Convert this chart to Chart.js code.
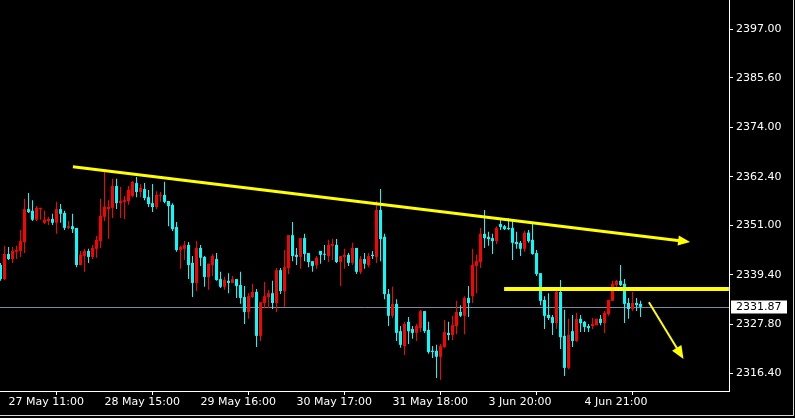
<!DOCTYPE html>
<html>
<head>
<meta charset="utf-8">
<script src="https://cdn.jsdelivr.net/npm/chart.js@4.4.1/dist/chart.umd.min.js"></script>
<style>
  html, body { margin: 0; padding: 0; background: #000; }
  #wrap { width: 795px; height: 418px; }
</style>
</head>
<body>
<div id="wrap"><canvas id="priceChart" width="795" height="418"></canvas></div>
<script>
// H1 candles (bar index 0 = first partly visible candle)
const opens = [
  2341.7, 2338.4, 2344.3, 2343.1, 2344.8, 2345.0, 2347.1, 2354.8, 2354.4, 2352.3,
  2354.8, 2351.6, 2352.0, 2352.5, 2351.6, 2354.8, 2353.9, 2350.4, 2350.8, 2350.4,
  2341.7, 2343.8, 2345.0, 2343.6, 2345.5, 2347.3, 2353.0, 2354.8, 2355.1, 2360.2,
  2356.2, 2356.5, 2356.7, 2357.9, 2360.9, 2358.8, 2359.5, 2357.6, 2356.2, 2355.3,
  2357.9, 2358.1, 2356.7, 2355.8, 2350.6, 2345.2, 2345.5, 2346.4, 2342.2, 2337.5,
  2345.7, 2343.6, 2338.9, 2341.7, 2343.1, 2338.4, 2336.6, 2338.0, 2337.5, 2338.4,
  2337.0, 2334.2, 2330.7, 2334.2, 2335.4, 2325.1, 2332.8, 2334.2, 2335.1, 2332.8,
  2340.5, 2335.6, 2341.0, 2348.7, 2344.1, 2343.6, 2348.0, 2344.5, 2342.6, 2341.7,
  2345.0, 2344.3, 2343.8, 2346.2, 2346.4, 2342.4, 2343.6, 2344.1, 2342.2, 2345.7,
  2340.1, 2343.1, 2341.7, 2344.1, 2343.6, 2354.6, 2348.3, 2334.9, 2329.8, 2332.6,
  2326.2, 2322.7, 2328.4, 2326.7, 2325.8, 2326.9, 2330.9, 2326.5, 2321.6, 2321.6,
  2320.2, 2322.5, 2325.8, 2325.3, 2327.4, 2330.7, 2329.8, 2334.0, 2334.4, 2341.5,
  2342.4, 2349.0, 2348.3, 2348.0, 2347.3, 2351.3, 2350.8, 2350.4, 2350.4, 2347.1,
  2346.9, 2345.5, 2349.3, 2347.6, 2344.5, 2339.8, 2333.5, 2330.0, 2329.5, 2328.1,
  2335.4, 2325.1, 2317.6, 2326.2, 2323.9, 2329.1, 2328.4, 2327.4, 2327.4, 2327.6,
  2329.1, 2328.1, 2330.2, 2333.3, 2337.0, 2338.0, 2337.3, 2332.8, 2331.4, 2332.8,
  2332.6
];
const highs = [
  2342.2, 2346.2, 2345.9, 2345.9, 2346.2, 2349.9, 2357.2, 2358.6, 2356.9, 2355.5,
  2355.1, 2354.4, 2353.0, 2353.7, 2356.5, 2356.0, 2354.4, 2352.0, 2353.7, 2350.4,
  2345.0, 2345.5, 2345.5, 2346.4, 2348.5, 2357.2, 2364.0, 2356.9, 2361.9, 2361.9,
  2360.0, 2357.9, 2360.2, 2361.4, 2362.3, 2360.7, 2360.9, 2359.3, 2360.7, 2359.0,
  2358.8, 2361.2, 2356.7, 2356.2, 2351.8, 2346.2, 2347.3, 2347.1, 2343.8, 2347.3,
  2346.4, 2343.8, 2342.0, 2344.3, 2344.5, 2340.1, 2338.9, 2339.8, 2339.1, 2338.4,
  2340.1, 2336.8, 2335.1, 2337.3, 2336.1, 2333.0, 2337.7, 2335.9, 2338.0, 2341.0,
  2341.0, 2345.2, 2348.7, 2351.8, 2345.7, 2348.0, 2349.0, 2344.5, 2342.6, 2343.8,
  2345.0, 2346.4, 2347.6, 2347.8, 2347.8, 2343.8, 2345.5, 2344.5, 2346.9, 2345.7,
  2343.8, 2344.5, 2344.5, 2345.0, 2356.7, 2359.5, 2349.0, 2336.1, 2336.6, 2333.7,
  2327.4, 2328.4, 2329.5, 2327.4, 2327.9, 2331.2, 2330.9, 2328.4, 2322.7, 2323.0,
  2323.2, 2328.8, 2328.4, 2329.8, 2333.3, 2332.3, 2334.4, 2336.8, 2345.5, 2344.1,
  2350.4, 2354.6, 2349.5, 2349.0, 2350.8, 2352.5, 2351.1, 2352.7, 2352.0, 2349.5,
  2347.3, 2349.7, 2349.9, 2351.3, 2345.2, 2339.8, 2334.4, 2335.1, 2330.0, 2335.9,
  2338.2, 2331.2, 2329.1, 2330.0, 2330.5, 2330.0, 2328.6, 2327.9, 2329.3, 2329.1,
  2330.0, 2330.9, 2333.5, 2338.0, 2338.2, 2341.7, 2338.4, 2334.0, 2335.4, 2334.0,
  2333.3
];
const lows = [
  2338.0, 2338.2, 2342.9, 2342.2, 2343.1, 2343.6, 2344.5, 2353.9, 2352.0, 2352.0,
  2352.3, 2351.3, 2351.1, 2351.1, 2349.0, 2351.6, 2349.9, 2350.1, 2349.2, 2341.2,
  2341.7, 2340.1, 2342.2, 2343.1, 2343.4, 2345.7, 2352.0, 2347.8, 2352.7, 2354.8,
  2352.7, 2352.5, 2355.8, 2357.6, 2357.6, 2357.6, 2356.9, 2355.3, 2354.1, 2354.8,
  2356.5, 2356.2, 2350.8, 2349.7, 2344.8, 2340.8, 2342.9, 2338.4, 2334.2, 2335.6,
  2341.5, 2336.6, 2335.9, 2339.1, 2338.0, 2336.3, 2335.9, 2335.1, 2337.5, 2334.0,
  2332.6, 2327.9, 2329.1, 2334.0, 2322.5, 2323.9, 2331.6, 2331.6, 2331.4, 2330.7,
  2334.9, 2331.9, 2339.6, 2342.6, 2341.7, 2340.8, 2342.6, 2341.2, 2340.1, 2340.8,
  2342.0, 2342.9, 2342.4, 2342.9, 2342.2, 2336.8, 2340.8, 2341.5, 2341.7, 2339.6,
  2339.6, 2340.8, 2341.2, 2343.1, 2342.2, 2342.6, 2333.7, 2327.4, 2329.3, 2323.9,
  2322.3, 2320.6, 2323.2, 2324.4, 2323.9, 2326.0, 2325.8, 2320.9, 2319.9, 2315.2,
  2314.8, 2322.3, 2324.1, 2324.1, 2325.5, 2329.5, 2325.5, 2329.5, 2332.8, 2335.1,
  2341.0, 2345.7, 2346.2, 2344.3, 2346.6, 2349.9, 2349.9, 2349.9, 2342.9, 2345.5,
  2343.8, 2344.8, 2346.9, 2344.1, 2339.1, 2332.3, 2326.7, 2328.8, 2325.3, 2326.7,
  2322.0, 2315.7, 2317.3, 2322.5, 2323.7, 2326.0, 2326.0, 2326.0, 2326.7, 2327.6,
  2327.6, 2325.8, 2329.8, 2333.3, 2336.3, 2336.8, 2328.1, 2329.1, 2330.9, 2330.9,
  2329.5
];
const closes = [
  2338.4, 2344.3, 2343.1, 2345.0, 2345.2, 2347.3, 2354.8, 2354.1, 2352.3, 2355.1,
  2355.1, 2352.3, 2352.5, 2351.6, 2354.8, 2353.7, 2350.4, 2350.8, 2350.1, 2341.7,
  2344.1, 2345.0, 2343.6, 2345.7, 2347.6, 2353.2, 2355.3, 2355.3, 2360.2, 2356.2,
  2356.7, 2356.9, 2359.3, 2361.2, 2358.8, 2359.8, 2357.4, 2356.0, 2355.3, 2358.1,
  2358.1, 2356.5, 2355.5, 2350.1, 2345.2, 2345.9, 2346.4, 2341.7, 2337.5, 2345.7,
  2343.4, 2338.9, 2342.0, 2343.8, 2338.2, 2336.6, 2338.2, 2337.5, 2338.4, 2336.8,
  2334.0, 2330.7, 2334.4, 2335.4, 2325.1, 2333.0, 2334.4, 2335.1, 2332.8, 2340.5,
  2335.6, 2341.2, 2348.7, 2343.8, 2343.6, 2348.0, 2344.3, 2342.4, 2341.5, 2343.4,
  2344.1, 2344.1, 2346.4, 2346.6, 2342.4, 2343.8, 2344.1, 2342.2, 2345.7, 2340.1,
  2343.1, 2342.0, 2343.8, 2343.8, 2354.6, 2347.8, 2334.9, 2329.8, 2332.6, 2325.8,
  2323.0, 2327.9, 2326.2, 2325.8, 2327.4, 2330.9, 2326.2, 2321.3, 2321.3, 2320.2,
  2322.7, 2326.0, 2325.3, 2327.6, 2330.7, 2329.8, 2334.0, 2332.8, 2341.7, 2342.6,
  2349.0, 2348.0, 2347.8, 2347.3, 2350.4, 2350.6, 2350.1, 2350.1, 2346.9, 2346.6,
  2345.5, 2349.3, 2347.3, 2344.3, 2339.6, 2333.3, 2329.8, 2329.3, 2328.1, 2335.4,
  2324.8, 2317.6, 2325.3, 2323.9, 2329.1, 2328.1, 2327.2, 2326.9, 2327.9, 2329.1,
  2328.1, 2330.5, 2333.5, 2337.3, 2338.0, 2337.0, 2332.6, 2331.4, 2332.8, 2332.3,
  2331.9
];

// time axis labels and the bar index each one sits on
const timeLabels = ['27 May 11:00', '28 May 15:00', '29 May 16:00', '30 May 17:00',
                    '31 May 18:00', '3 Jun 20:00', '4 Jun 21:00'];
const labelBars = [2, 26, 50, 74, 98, 122, 146];

const priceTicks = [2397.00, 2385.60, 2374.00, 2362.40, 2351.00, 2339.40, 2327.80, 2316.40];
const currentPrice = 2331.87;

// hand drawn lines: [bar index, price] at each end
const trendFrom = [[18.1, 2364.7], [125.9, 2336.1], [162.1, 2333.0]];
const trendTo   = [[172.4, 2347.1], [182.1, 2336.1], [170.75, 2319.7]];

const upColor = '#ff0000';
const downColor = '#00ffff';
const barColors = opens.map((o, i) => closes[i] > o ? upColor : downColor);
const axisFont = { family: 'DejaVu Sans', size: 11 };

function drawLine(ctx, x1, y1, x2, y2, width, head) {
  const ang = Math.atan2(y2 - y1, x2 - x1);
  const cos = Math.cos(ang), sin = Math.sin(ang);
  ctx.lineWidth = width;
  ctx.beginPath();
  ctx.moveTo(x1, y1);
  ctx.lineTo(x2 - cos * head * 0.7, y2 - sin * head * 0.7);
  ctx.stroke();
  if (head > 0) {
    const hw = head * 0.42;
    ctx.beginPath();
    ctx.moveTo(x2, y2);
    ctx.lineTo(x2 - cos * head + sin * hw, y2 - sin * head - cos * hw);
    ctx.lineTo(x2 - cos * head - sin * hw, y2 - sin * head + cos * hw);
    ctx.closePath();
    ctx.fill();
  }
}

const overlay = {
  id: 'overlay',
  beforeDatasetsDraw(chart) {
    const { ctx, chartArea, scales: { y } } = chart;
    const py = Math.round(y.getPixelForValue(currentPrice)) + 0.5;
    ctx.save();
    ctx.strokeStyle = '#7f8c9f';
    ctx.lineWidth = 1;
    ctx.beginPath();
    ctx.moveTo(chartArea.left, py);
    ctx.lineTo(chartArea.right, py);
    ctx.stroke();
    ctx.restore();
  },
  afterDatasetsDraw(chart) {
    const { ctx, scales: { x, y } } = chart;
    const widths = [3, 4, 2];
    const heads = [12, 0, 13];
    ctx.save();
    ctx.strokeStyle = '#ffff00';
    ctx.fillStyle = '#ffff00';
    trendFrom.forEach((p, k) => {
      const q = trendTo[k];
      drawLine(ctx, x.getPixelForValue(p[0]), y.getPixelForValue(p[1]),
               x.getPixelForValue(q[0]), y.getPixelForValue(q[1]), widths[k], heads[k]);
    });
    ctx.restore();
  },
  afterDraw(chart) {
    const { ctx, chartArea, scales: { y } } = chart;
    const py = Math.round(y.getPixelForValue(currentPrice)) + 0.5;
    ctx.save();
    // current price tag
    ctx.fillStyle = '#ffffff';
    ctx.fillRect(chartArea.right + 2, py - 7, 56, 13);
    ctx.fillStyle = '#000000';
    ctx.font = '11px "DejaVu Sans"';
    ctx.textBaseline = 'middle';
    ctx.fillText(currentPrice.toFixed(2), chartArea.right + 7, py);
    // window frame
    ctx.strokeStyle = '#d8d8d8';
    ctx.lineWidth = 1;
    ctx.beginPath();
    ctx.moveTo(0, 415.5);
    ctx.lineTo(794, 415.5);
    ctx.moveTo(793.5, 0);
    ctx.lineTo(793.5, 416);
    ctx.stroke();
    ctx.restore();
  }
};

const ctx = document.getElementById('priceChart').getContext('2d');
new Chart(ctx, {
  type: 'bar',
  data: {
    datasets: [
      {
        label: 'wick',
        data: opens.map((o, i) => ({ x: i, y: [lows[i], highs[i]] })),
        backgroundColor: barColors,
        barThickness: 1,
        inflateAmount: 0,
        grouped: false
      },
      {
        label: 'body',
        data: opens.map((o, i) => ({ x: i, y: [o, closes[i]] })),
        backgroundColor: barColors,
        barThickness: 3,
        minBarLength: 1,
        inflateAmount: 0,
        grouped: false
      }
    ]
  },
  options: {
    responsive: false,
    animation: false,
    devicePixelRatio: 1,
    layout: { padding: 0 },
    plugins: { legend: { display: false }, tooltip: { enabled: false } },
    scales: {
      x: {
        type: 'linear',
        min: -0.125,
        max: 182.125,
        offset: false,
        afterBuildTicks: s => { s.ticks = labelBars.map(v => ({ value: v })); },
        afterFit: s => { s.height = 27; s.paddingLeft = 0; s.paddingRight = 0; },
        grid: { drawOnChartArea: false, color: '#ffffff', tickLength: 4 },
        border: { color: '#ffffff' },
        ticks: {
          color: '#ffffff',
          font: axisFont,
          align: 'start',
          maxRotation: 0,
          autoSkip: false,
          padding: 1,
          callback: (v, idx) => timeLabels[idx]
        }
      },
      y: {
        position: 'right',
        min: 2312.183,
        max: 2403.795,
        afterBuildTicks: s => { s.ticks = priceTicks.map(v => ({ value: v })); },
        afterFit: s => { s.width = 66; s.paddingTop = 0; s.paddingBottom = 0; },
        grid: { drawOnChartArea: false, color: '#ffffff', tickLength: 4 },
        border: { color: '#ffffff' },
        ticks: {
          color: '#ffffff',
          font: axisFont,
          padding: 3,
          autoSkip: false,
          callback: v => Number(v).toFixed(2)
        }
      }
    }
  },
  plugins: [overlay]
});
</script>
</body>
</html>
